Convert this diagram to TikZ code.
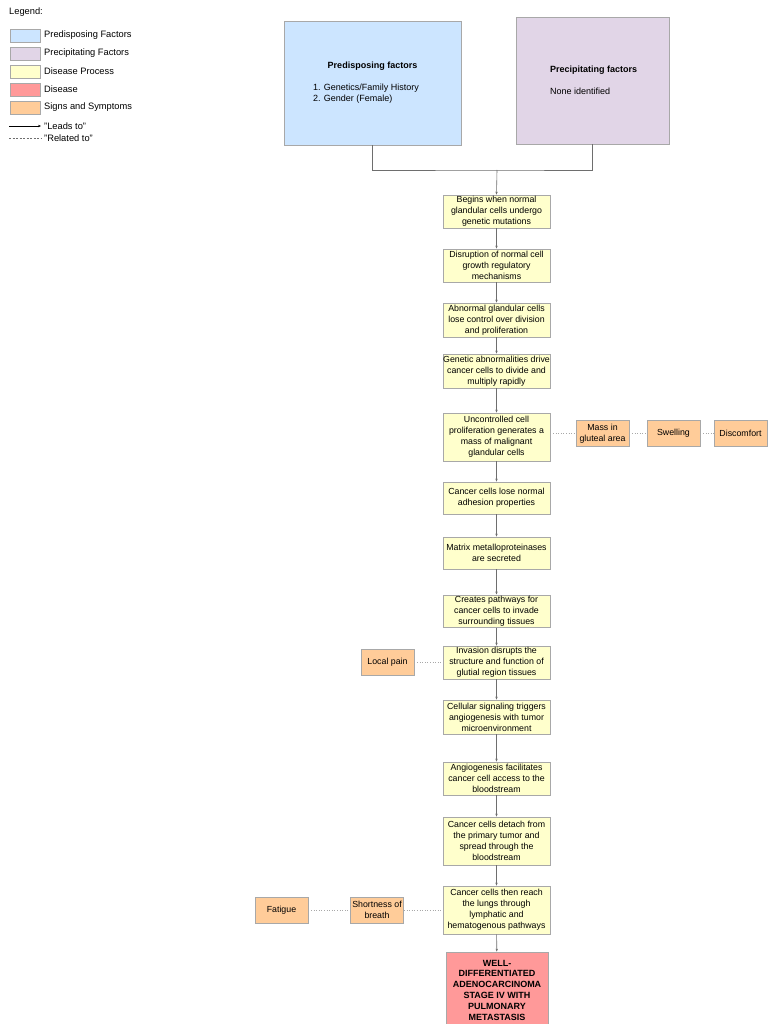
\documentclass[tikz,border=0pt]{standalone}
\usepackage{fontspec}
\setmainfont{Liberation Sans}
\usetikzlibrary{arrows.meta}
\definecolor{cblue}{HTML}{CCE5FF}
\definecolor{cpurp}{HTML}{E1D5E7}
\definecolor{cyel}{HTML}{FFFFCC}
\definecolor{cred}{HTML}{FF9999}
\definecolor{corg}{HTML}{FFCC99}
\definecolor{cbord}{HTML}{A8A8A8}
\definecolor{cline}{HTML}{6E6E6E}
\begin{document}
\begin{tikzpicture}[x=1pt,y=-1pt,
  every node/.style={font=\fontsize{8.8}{11}\selectfont, inner sep=1pt},
  leg/.style={anchor=west, font=\fontsize{9.3}{11}\selectfont},
  box/.style={draw=cbord, line width=0.8pt, align=center},
  proc/.style={box, fill=cyel, minimum width=107, inner xsep=0pt},
  sym/.style={box, fill=corg, minimum width=53, minimum height=26},
  lead/.style={draw=cline, line width=0.6pt, -{Stealth[length=3pt,width=2.4pt]}},
  rel/.style={draw=cbord, line width=0.6pt, dotted},
  sw/.style={draw=cbord, line width=0.6pt, minimum width=30, minimum height=13, inner sep=0pt}
]
\useasboundingbox[fill=white] (0,0) rectangle (768,1024);

% Legend
\node[leg] (lg) at (8,12) {Legend:};
\node[sw, fill=cblue] (s1) at (25,35.5) {};
\node[leg] (t1) at (43,35.5) {Predisposing Factors};
\node[sw, fill=cpurp] (s2) at (25,53.5) {};
\node[leg] (t2) at (43,53.5) {Precipitating Factors};
\node[sw, fill=cyel] (s3) at (25,71.5) {};
\node[leg] (t3) at (43,71.5) {Disease Process};
\node[sw, fill=cred] (s4) at (25,89.5) {};
\node[leg] (t4) at (43,89.5) {Disease};
\node[sw, fill=corg] (s5) at (25,107.5) {};
\node[leg] (t5) at (43,107.5) {Signs and Symptoms};
\coordinate (la) at (9,126);
\coordinate (lae) at (41,126);
\node[leg] (t6) at (43,126) {"Leads to"};
\draw[line width=0.6pt, -{Stealth[length=3pt,width=2.4pt]}] (la) -- (lae);
\coordinate (lb) at (9,138);
\coordinate (lbe) at (41,138);
\node[leg] (t7) at (43,138) {"Related to"};
\draw[line width=0.5pt, draw=cline, dash pattern=on 2pt off 1.5pt] (lb) -- (lbe);

% Factors
\node[box, fill=cblue, minimum width=177, minimum height=124] (pre) at (372.5,83) {};
\node[font=\fontsize{9}{11}\selectfont\bfseries] (pret) at (372.5,66) {Predisposing factors};
\node[align=left, font=\fontsize{9}{11}\selectfont] (prel) at (366,94) {1. Genetics/Family History\\2. Gender (Female)};
\node[box, fill=cpurp, minimum width=153, minimum height=127] (prc) at (592.5,80.5) {};
\node[font=\fontsize{9}{11}\selectfont\bfseries, anchor=west] (prct) at (549,70) {Precipitating factors};
\node[anchor=west, font=\fontsize{9}{11}\selectfont] (prcl) at (549,91) {None identified};

% Process
\node[proc, minimum height=33] (p1) at (496.5,211.5) {Begins when normal\\glandular cells undergo\\genetic mutations};
\node[proc, minimum height=33] (p2) at (496.5,265.5) {Disruption of normal cell\\growth regulatory\\mechanisms};
\node[proc, minimum height=34] (p3) at (496.5,320) {Abnormal glandular cells\\lose control over division\\and proliferation};
\node[proc, minimum height=34] (p4) at (496.5,371) {Genetic abnormalities drive\\cancer cells to divide and\\multiply rapidly};
\node[proc, minimum height=48] (p5) at (496.5,437) {Uncontrolled cell\\proliferation generates a\\mass of malignant\\glandular cells};
\node[proc, minimum height=32] (p6) at (496.5,498) {Cancer cells lose normal\\adhesion properties};
\node[proc, minimum height=32] (p7) at (496.5,553) {Matrix metalloproteinases\\are secreted};
\node[proc, minimum height=32] (p8) at (496.5,611) {Creates pathways for\\cancer cells to invade\\surrounding tissues};
\node[proc, minimum height=33] (p9) at (496.5,662.5) {Invasion disrupts the\\structure and function of\\glutial region tissues};
\node[proc, minimum height=34] (p10) at (496.5,717) {Cellular signaling triggers\\angiogenesis with tumor\\microenvironment};
\node[proc, minimum height=33] (p11) at (496.5,778.5) {Angiogenesis facilitates\\cancer cell access to the\\bloodstream};
\node[proc, minimum height=48] (p12) at (496.5,841) {Cancer cells detach from\\the primary tumor and\\spread through the\\bloodstream};
\node[proc, minimum height=48] (p13) at (496.5,910) {Cancer cells then reach\\the lungs through\\lymphatic and\\hematogenous pathways};
\node[box, fill=cred, minimum width=102, minimum height=76, font=\fontsize{9}{10.8}\selectfont\bfseries] (dis) at (497,990) {WELL-\\DIFFERENTIATED\\ADENOCARCINOMA\\STAGE IV WITH\\PULMONARY\\METASTASIS};

% Symptoms
\node[sym] (m1) at (602.5,433.5) {Mass in\\gluteal area};
\node[sym] (m2) at (673.5,433.5) {Swelling};
\node[sym] (m3) at (740.5,433.5) {Discomfort};
\node[sym] (lp) at (387.5,662) {Local pain};
\node[sym] (sb) at (377,910) {Shortness of\\breath};
\node[sym] (fa) at (281.5,910) {Fatigue};

% Connectors
\coordinate (j) at (497,170);
\draw[line width=0.6pt, draw=cline] (pre.south) |- (j) -| (prc.south);
\draw[lead] (j) -- (p1.north);
\draw[lead] (p1) -- (p2);
\draw[lead] (p2) -- (p3);
\draw[lead] (p3) -- (p4);
\draw[lead] (p4) -- (p5);
\draw[lead] (p5) -- (p6);
\draw[lead] (p6) -- (p7);
\draw[lead] (p7) -- (p8);
\draw[lead] (p8) -- (p9);
\draw[lead] (p9) -- (p10);
\draw[lead] (p10) -- (p11);
\draw[lead] (p11) -- (p12);
\draw[lead] (p12) -- (p13);
\draw[lead] (p13) -- (dis);

\draw[rel] (p5.east |- m1.west) -- (m1.west);
\draw[rel] (m1) -- (m2);
\draw[rel] (m2) -- (m3);
\draw[rel] (lp.east) -- (lp.east -| p9.west);
\draw[rel] (sb.east) -- (sb.east -| p13.west);
\draw[rel] (fa) -- (sb);
\end{tikzpicture}
\end{document}
